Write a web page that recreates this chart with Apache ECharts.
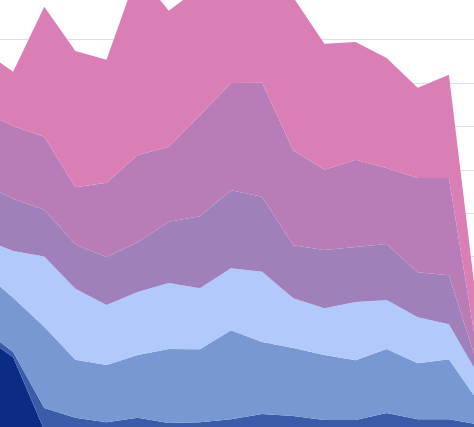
<!DOCTYPE html>
<html><head><meta charset="utf-8">
<script src="https://cdn.jsdelivr.net/npm/echarts@6/dist/echarts.min.js"></script>
<style>html,body{margin:0;padding:0;background:#fff;overflow:hidden;width:474px;height:427px;position:relative;}
#c{position:absolute;left:-18px;top:-47px;width:498px;height:477px;}</style>
</head><body><div id="c"></div>
<script>
var categories = ['1','2','3','4','5','6','7','8','9','10','11','12','13','14','15','16','17'];
var s1 = [21.9,16.8,0,0,0,0,0,0,0,0,0,0,0,0,0,0,0];
var s2 = [1.6,1.2,5.1,2.8,1.8,2.8,1.6,1.8,2.5,3.7,3.2,2.3,2.3,3.9,2.5,2.5,1.2];
var s3 = [13.2,12.5,18.7,13.4,13.2,14.5,17.1,16.8,20.5,16.6,15.7,15.0,13.8,14.8,12.9,13.8,4.8];
var s4 = [7.4,10.8,16.2,16.4,13.8,14.5,15.2,14.1,14.3,16.2,11.5,10.8,13.4,11.3,10.6,8.1,6.0];
var s5 = [12.7,12.0,10.8,10.2,11.1,11.5,14.1,16.6,18.0,17.3,12.2,13.4,12.7,12.9,10.4,11.3,1.2];
var s6 = [16.8,16.8,16.8,13.2,17.1,20.1,17.3,23.3,24.7,26.3,21.9,18.5,20.1,17.5,21.7,22.4,0.9];
var s7 = [14.1,12.5,30.0,31.4,28.4,42.2,31.4,29.5,22.6,21.5,35.3,29.1,27.2,25.4,20.8,23.8,8.5];
var seriesData = [s1,s2,s3,s4,s5,s6,s7];
var colors = ['#0b2c84','#3b5ca9','#7898d4','#b1c9fb','#9f80bb','#b87db6','#da7fb5'];

var chart = echarts.init(document.getElementById('c'), null, {renderer:'canvas'});
chart.setOption({
  animation:false,
  grid:{left:0, right:0, top:0, bottom:0, outerBoundsMode:'none', containLabel:false},
  xAxis:{type:'category', data:categories, boundaryGap:false, show:false},
  yAxis:{type:'value', min:0, max:110, interval:10,
    axisLine:{show:false}, axisTick:{show:false}, axisLabel:{show:false},
    splitLine:{show:true, lineStyle:{color:'#e0e0e0', width:1}}},
  series: seriesData.map(function(d,i){
    return {type:'line', stack:'total', data:d, symbol:'none', showSymbol:false,
      lineStyle:{width:0}, areaStyle:{color:colors[i], opacity:1}, itemStyle:{color:colors[i]}};
  })
});
</script></body></html>
